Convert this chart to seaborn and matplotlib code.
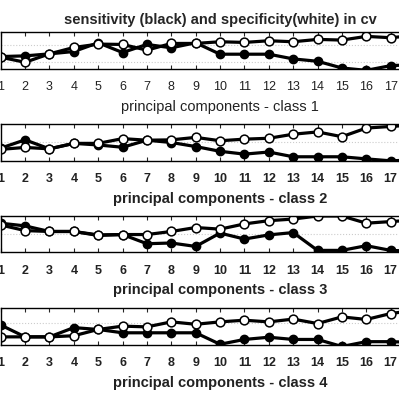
import matplotlib
matplotlib.use("Agg")
import matplotlib.pyplot as plt
import seaborn as sns
import pandas as pd

components = list(range(1, 19))
tick_values = list(range(1, 18))
tick_labels = [str(v) for v in tick_values]

sens_c1 = [0.917, 0.919, 0.925, 0.932, 0.958, 0.929, 0.953, 0.943, 0.958, 0.924, 0.924, 0.924, 0.910, 0.903, 0.883, 0.876, 0.890, 0.893]
spec_c1 = [0.915, 0.900, 0.925, 0.944, 0.954, 0.953, 0.936, 0.956, 0.956, 0.961, 0.959, 0.964, 0.961, 0.968, 0.966, 0.977, 0.973, 0.980]

sens_c2 = [0.863, 0.910, 0.859, 0.890, 0.881, 0.868, 0.908, 0.895, 0.872, 0.845, 0.829, 0.841, 0.814, 0.814, 0.814, 0.802, 0.791, 0.796]
spec_c2 = [0.856, 0.867, 0.859, 0.890, 0.890, 0.917, 0.908, 0.910, 0.924, 0.905, 0.914, 0.919, 0.942, 0.955, 0.928, 0.977, 0.986, 0.995]

sens_c3 = [0.960, 0.945, 0.914, 0.914, 0.895, 0.897, 0.846, 0.850, 0.831, 0.905, 0.872, 0.895, 0.908, 0.809, 0.809, 0.835, 0.809, 0.804]
spec_c3 = [0.950, 0.919, 0.914, 0.914, 0.892, 0.897, 0.897, 0.914, 0.936, 0.927, 0.956, 0.974, 0.983, 1.000, 1.000, 0.960, 0.969, 0.978]

sens_c4 = [0.914, 0.882, 0.882, 0.907, 0.902, 0.893, 0.893, 0.893, 0.893, 0.862, 0.875, 0.881, 0.875, 0.875, 0.856, 0.869, 0.869, 0.867]
spec_c4 = [0.882, 0.882, 0.882, 0.885, 0.902, 0.911, 0.909, 0.9225, 0.916, 0.9225, 0.927, 0.9225, 0.930, 0.918, 0.936, 0.929, 0.945, 0.954]

panels = [
    ("principal components - class 1", sens_c1, spec_c1, (0.88, 0.99), [0.90, 0.95], "normal"),
    ("principal components - class 2", sens_c2, spec_c2, (0.79, 1.0), [0.90], "bold"),
    ("principal components - class 3", sens_c3, spec_c3, (0.80, 1.0), [0.90], "bold"),
    ("principal components - class 4", sens_c4, spec_c4, (0.86, 0.96), [0.92], "bold"),
]
title = "sensitivity (black) and specificity(white) in cv"

sns.set_style("white")
plt.rcParams["font.family"] = ["Liberation Sans", "DejaVu Sans"]

fig = plt.figure(figsize=(3.99, 3.99), dpi=100)
H = 399.0
tops = [32, 124, 216, 308]
bottoms = [69, 161, 252, 345]
left = 0.7 / 399
width = 438.7 / 399

for i, (lab, sens, spec, ylim, grid, weight) in enumerate(panels):
    ax = fig.add_axes([left, 1 - bottoms[i] / H, width, (bottoms[i] - tops[i]) / H])
    df = pd.DataFrame({"pc": components, "sens": sens, "spec": spec})
    sns.lineplot(data=df, x="pc", y="sens", ax=ax, color="black", lw=2.3,
                 marker="o", markersize=6.0, markerfacecolor="black",
                 markeredgecolor="black", markeredgewidth=1.0)
    sns.lineplot(data=df, x="pc", y="spec", ax=ax, color="black", lw=2.3,
                 marker="o", markersize=6.3, markerfacecolor="white",
                 markeredgecolor="black", markeredgewidth=1.1)
    ax.set_xlim(1, 19)
    ax.set_ylim(*ylim)
    ax.set_xticks(tick_values)
    ax.set_xticklabels(tick_labels, fontsize=9, fontweight=weight, color="#222222")
    ax.set_yticks(grid)
    ax.set_yticklabels([])
    ax.tick_params(axis="x", direction="in", length=3, width=0.8, top=True, bottom=True, pad=9)
    ax.tick_params(axis="y", length=0)
    ax.yaxis.grid(True, linestyle=":", color="#cccccc", lw=0.8)
    ax.xaxis.grid(False)
    for s in ax.spines.values():
        s.set_linewidth(1.0)
        s.set_color("black")
    ax.set_ylabel("")
    ax.set_xlabel(lab, fontsize=10.5, fontweight=weight, labelpad=5, color="#222222")
    if i == 0:
        ax.set_title(title, fontsize=10.5, fontweight="bold", pad=6)

fig.savefig("out.png", dpi=100)
